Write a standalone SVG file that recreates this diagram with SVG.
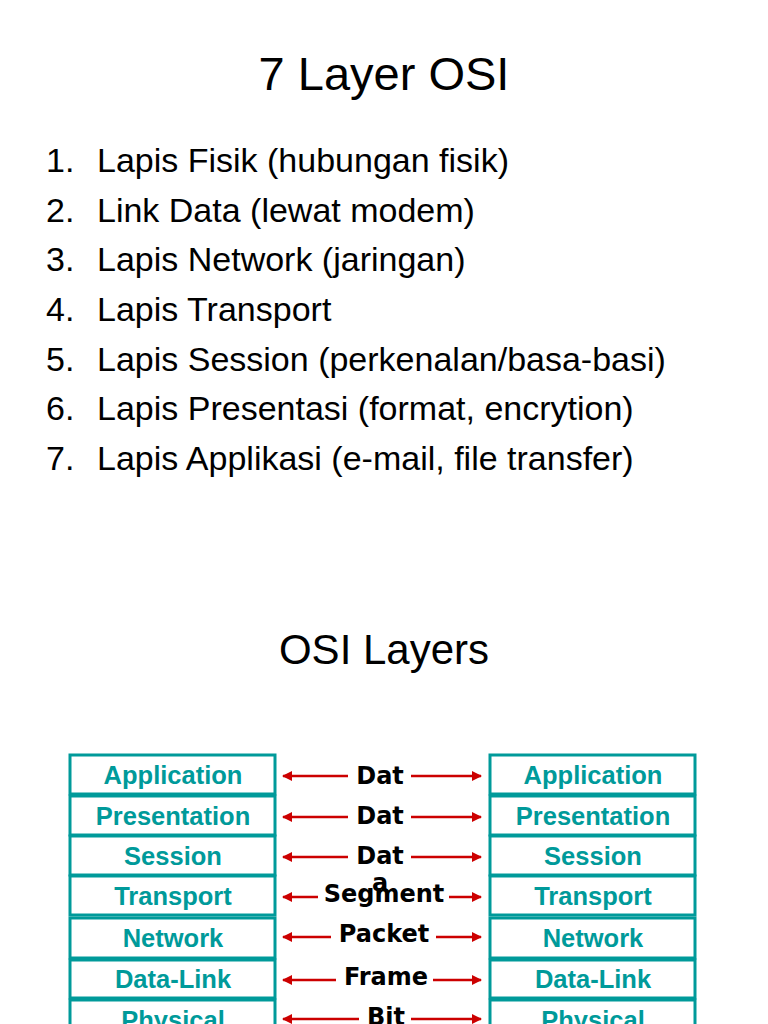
<svg xmlns="http://www.w3.org/2000/svg" width="768" height="1024" viewBox="0 0 768 1024">
<style>
text{font-family:"Liberation Sans",Arial,sans-serif}
.l{font-size:34px;fill:#000}
.b{fill:#fff;stroke:#009a9a;stroke-width:3}
.t{font-size:25.5px;font-weight:bold;fill:#009a9a;text-anchor:middle}
.m{font-family:"DejaVu Sans",sans-serif;font-size:24px;font-weight:bold;fill:#000;text-anchor:middle}
.a{stroke:#cc0000;stroke-width:2.5;fill:none;marker-end:url(#h)}
</style>
<defs><marker id="h" viewBox="0 0 10 10" refX="9" refY="5" markerWidth="4" markerHeight="4" orient="auto"><path d="M0,0L10,5L0,10z" fill="#cc0000"/></marker></defs>
<rect width="768" height="1024" fill="#fff"/>
<text x="384" y="90" font-size="47" text-anchor="middle">7 Layer OSI</text>
<g class="l">
<text x="46" y="172">1.</text><text x="97" y="172">Lapis Fisik (hubungan fisik)</text>
<text x="46" y="222">2.</text><text x="97" y="222">Link Data (lewat modem)</text>
<text x="46" y="271">3.</text><text x="97" y="271">Lapis Network (jaringan)</text>
<text x="46" y="321">4.</text><text x="97" y="321">Lapis Transport</text>
<text x="46" y="371">5.</text><text x="97" y="371">Lapis Session (perkenalan/basa-basi)</text>
<text x="46" y="420">6.</text><text x="97" y="420">Lapis Presentasi (format, encrytion)</text>
<text x="46" y="470">7.</text><text x="97" y="470">Lapis Applikasi (e-mail, file transfer)</text>
</g>
<text x="384" y="664" font-size="42" text-anchor="middle">OSI Layers</text>
<g id="left">
<g id="l1"><rect class="b" x="70" y="755" width="205" height="39"/><text class="t" x="173" y="784">Application</text></g>
<g id="l2"><rect class="b" x="70" y="796" width="205" height="39"/><text class="t" x="173" y="825">Presentation</text></g>
<g id="l3"><rect class="b" x="70" y="836" width="205" height="39"/><text class="t" x="173" y="865">Session</text></g>
<g id="l4"><rect class="b" x="70" y="876" width="205" height="39"/><text class="t" x="173" y="905">Transport</text></g>
<g id="l5"><rect class="b" x="70" y="918" width="205" height="40"/><text class="t" x="173" y="947">Network</text></g>
<g id="l6"><rect class="b" x="70" y="960" width="205" height="38"/><text class="t" x="173" y="988">Data-Link</text></g>
<g id="l7"><rect class="b" x="70" y="1000" width="205" height="40"/><text class="t" x="173" y="1029">Physical</text></g>
</g>
<g id="right">
<g id="r1"><rect class="b" x="490" y="755" width="205" height="39"/><text class="t" x="593" y="784">Application</text></g>
<g id="r2"><rect class="b" x="490" y="796" width="205" height="39"/><text class="t" x="593" y="825">Presentation</text></g>
<g id="r3"><rect class="b" x="490" y="836" width="205" height="39"/><text class="t" x="593" y="865">Session</text></g>
<g id="r4"><rect class="b" x="490" y="876" width="205" height="39"/><text class="t" x="593" y="905">Transport</text></g>
<g id="r5"><rect class="b" x="490" y="918" width="205" height="40"/><text class="t" x="593" y="947">Network</text></g>
<g id="r6"><rect class="b" x="490" y="960" width="205" height="38"/><text class="t" x="593" y="988">Data-Link</text></g>
<g id="r7"><rect class="b" x="490" y="1000" width="205" height="40"/><text class="t" x="593" y="1029">Physical</text></g>
</g>
<g id="connectors">
<path class="a" d="M348,776H283"/><path class="a" d="M411,776H481"/>
<path class="a" d="M348,817H283"/><path class="a" d="M411,817H481"/>
<path class="a" d="M348,857H283"/><path class="a" d="M411,857H481"/>
<path class="a" d="M318,897H283"/><path class="a" d="M449,897H481"/>
<path class="a" d="M331,937H283"/><path class="a" d="M436,937H481"/>
<path class="a" d="M336,980H283"/><path class="a" d="M433,980H481"/>
<path class="a" d="M359,1019H283"/><path class="a" d="M411,1019H481"/>
</g>
<g id="labels">
<text class="m" x="380" y="784">Dat</text>
<text class="m" x="380" y="824">Dat</text>
<text class="m" x="380" y="864">Dat</text>
<text class="m" x="384" y="902">Segment</text>
<text class="m" x="380" y="891" font-size="20">a</text>
<text class="m" x="384" y="942">Packet</text>
<text class="m" x="386" y="985">Frame</text>
<text class="m" x="386" y="1025">Bit</text>
</g>
</svg>
